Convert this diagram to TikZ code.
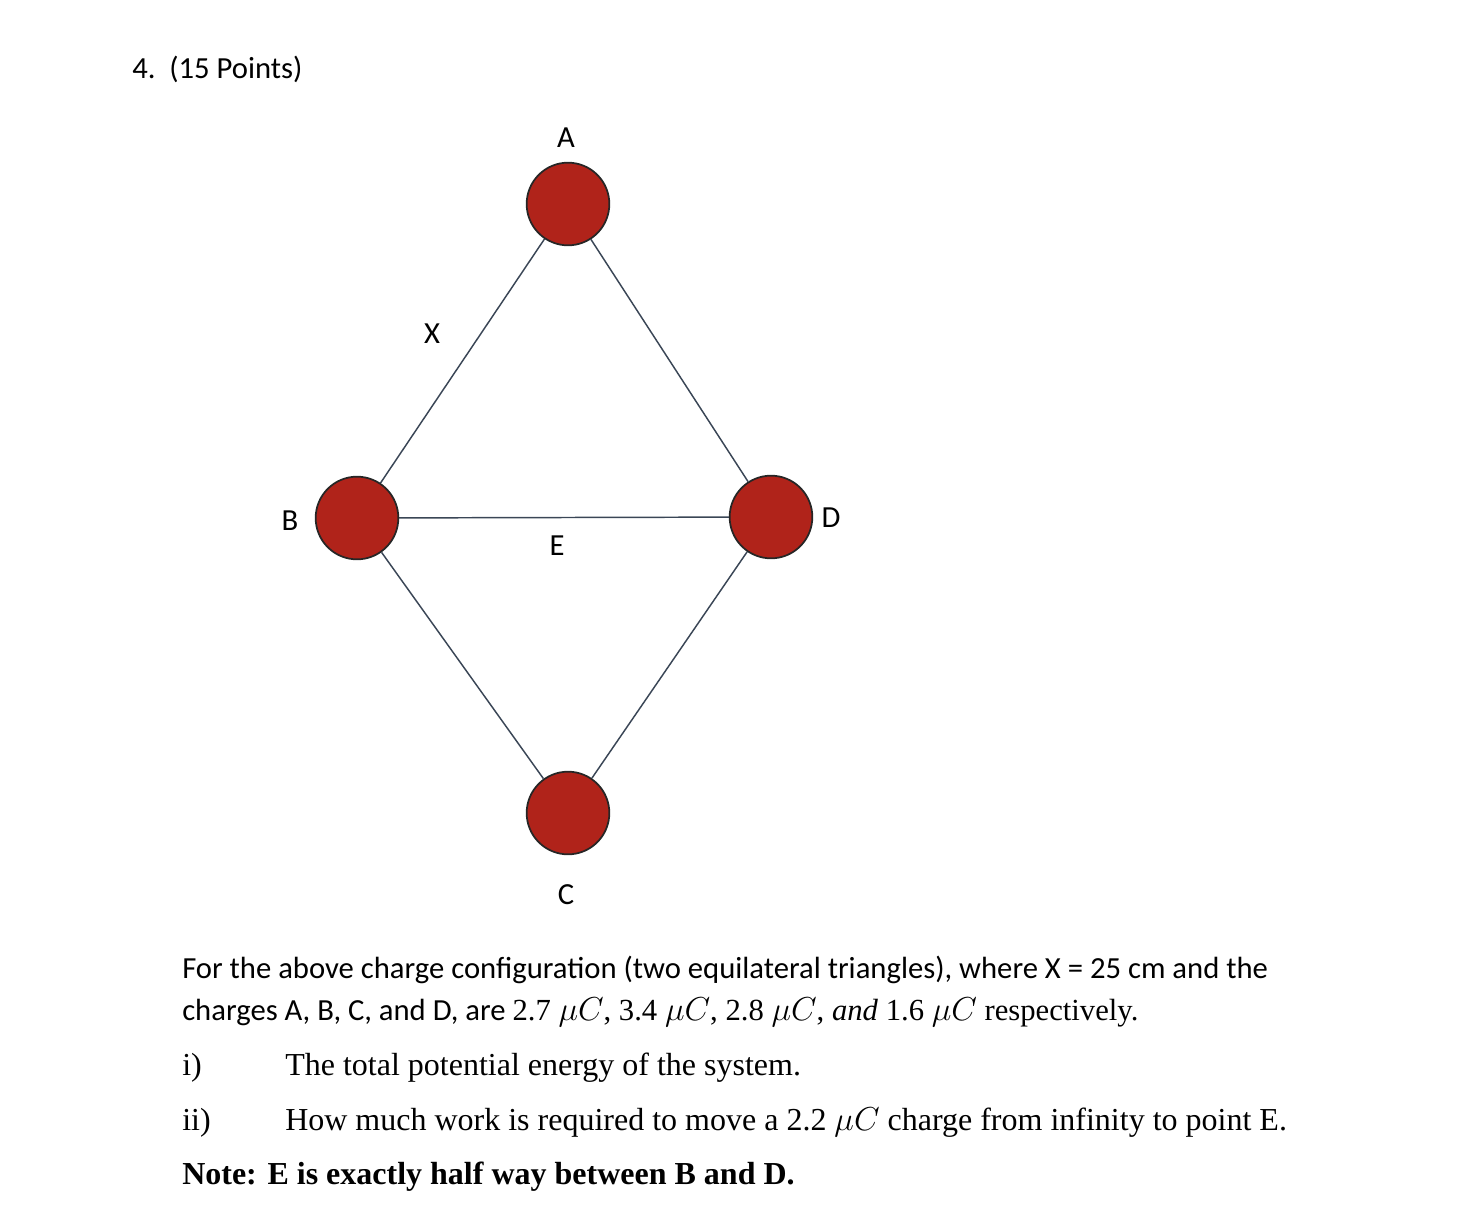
\documentclass[tikz,border=0pt]{standalone}
\usepackage{fontspec}
\setmainfont{Carlito}
\newfontfamily\serif{Liberation Serif}
\definecolor{chg}{HTML}{B0231A}
\definecolor{ln}{HTML}{3A4656}
\begin{document}
\begin{tikzpicture}[x=0.75pt,y=-0.75pt,
  charge/.style={circle,fill=chg,draw=black!85,line width=1.3pt,minimum size=62pt,inner sep=0pt},
  link/.style={draw=ln,line width=1.1pt},
  lab/.style={font=\fontsize{23}{27}\selectfont,inner sep=0pt},
  txt/.style={font=\fontsize{23}{27}\selectfont,anchor=base west,inner sep=0pt},
  stxt/.style={font=\serif\fontsize{24}{28}\selectfont,anchor=base west,inner sep=0pt}]
\useasboundingbox (0,0) rectangle (1484,1225);
\node[charge] (A) at (568,204) {};
\node[charge] (B) at (357,518) {};
\node[charge] (D) at (771,517) {};
\node[charge] (C) at (568,813) {};
\draw[link] (A) -- (B); \draw[link] (A) -- (D);
\draw[link] (B) -- (D); \draw[link] (B) -- (C); \draw[link] (D) -- (C);
\node[lab] (la) at (566,138) {A};
\node[lab] (lb) at (290,521) {B};
\node[lab] (ld) at (831,518) {D};
\node[lab] (le) at (557,546) {E};
\node[lab] (lc) at (566,895) {C};
\node[lab] (lx) at (432,334) {X};
\node[txt] (t0) at (132,78) {4.\ \ (15 Points)};
\node[txt] (t1) at (182,978) {For the above charge configuration (two equilateral triangles), where X = 25 cm and the};
\node[txt] (t2) at (182,1020) {charges A, B, C, and D, are {\serif 2.7 $\mu C$, 3.4 $\mu C$, 2.8 $\mu C$, \textit{and} 1.6 $\mu C$ respectively.}};
\node[stxt] (s1) at (182,1075) {i)};
\node[stxt] (s1b) at (285,1075) {The total potential energy of the system.};
\node[stxt] (s2) at (182,1130) {ii)};
\node[stxt] (s2b) at (285,1130) {How much work is required to move a 2.2 $\mu C$ charge from infinity to point E.};
\node[stxt,font=\serif\bfseries\fontsize{24}{28}\selectfont] (s3) at (182,1184) {Note: E is exactly half way between B and D.};
\end{tikzpicture}
\end{document}
